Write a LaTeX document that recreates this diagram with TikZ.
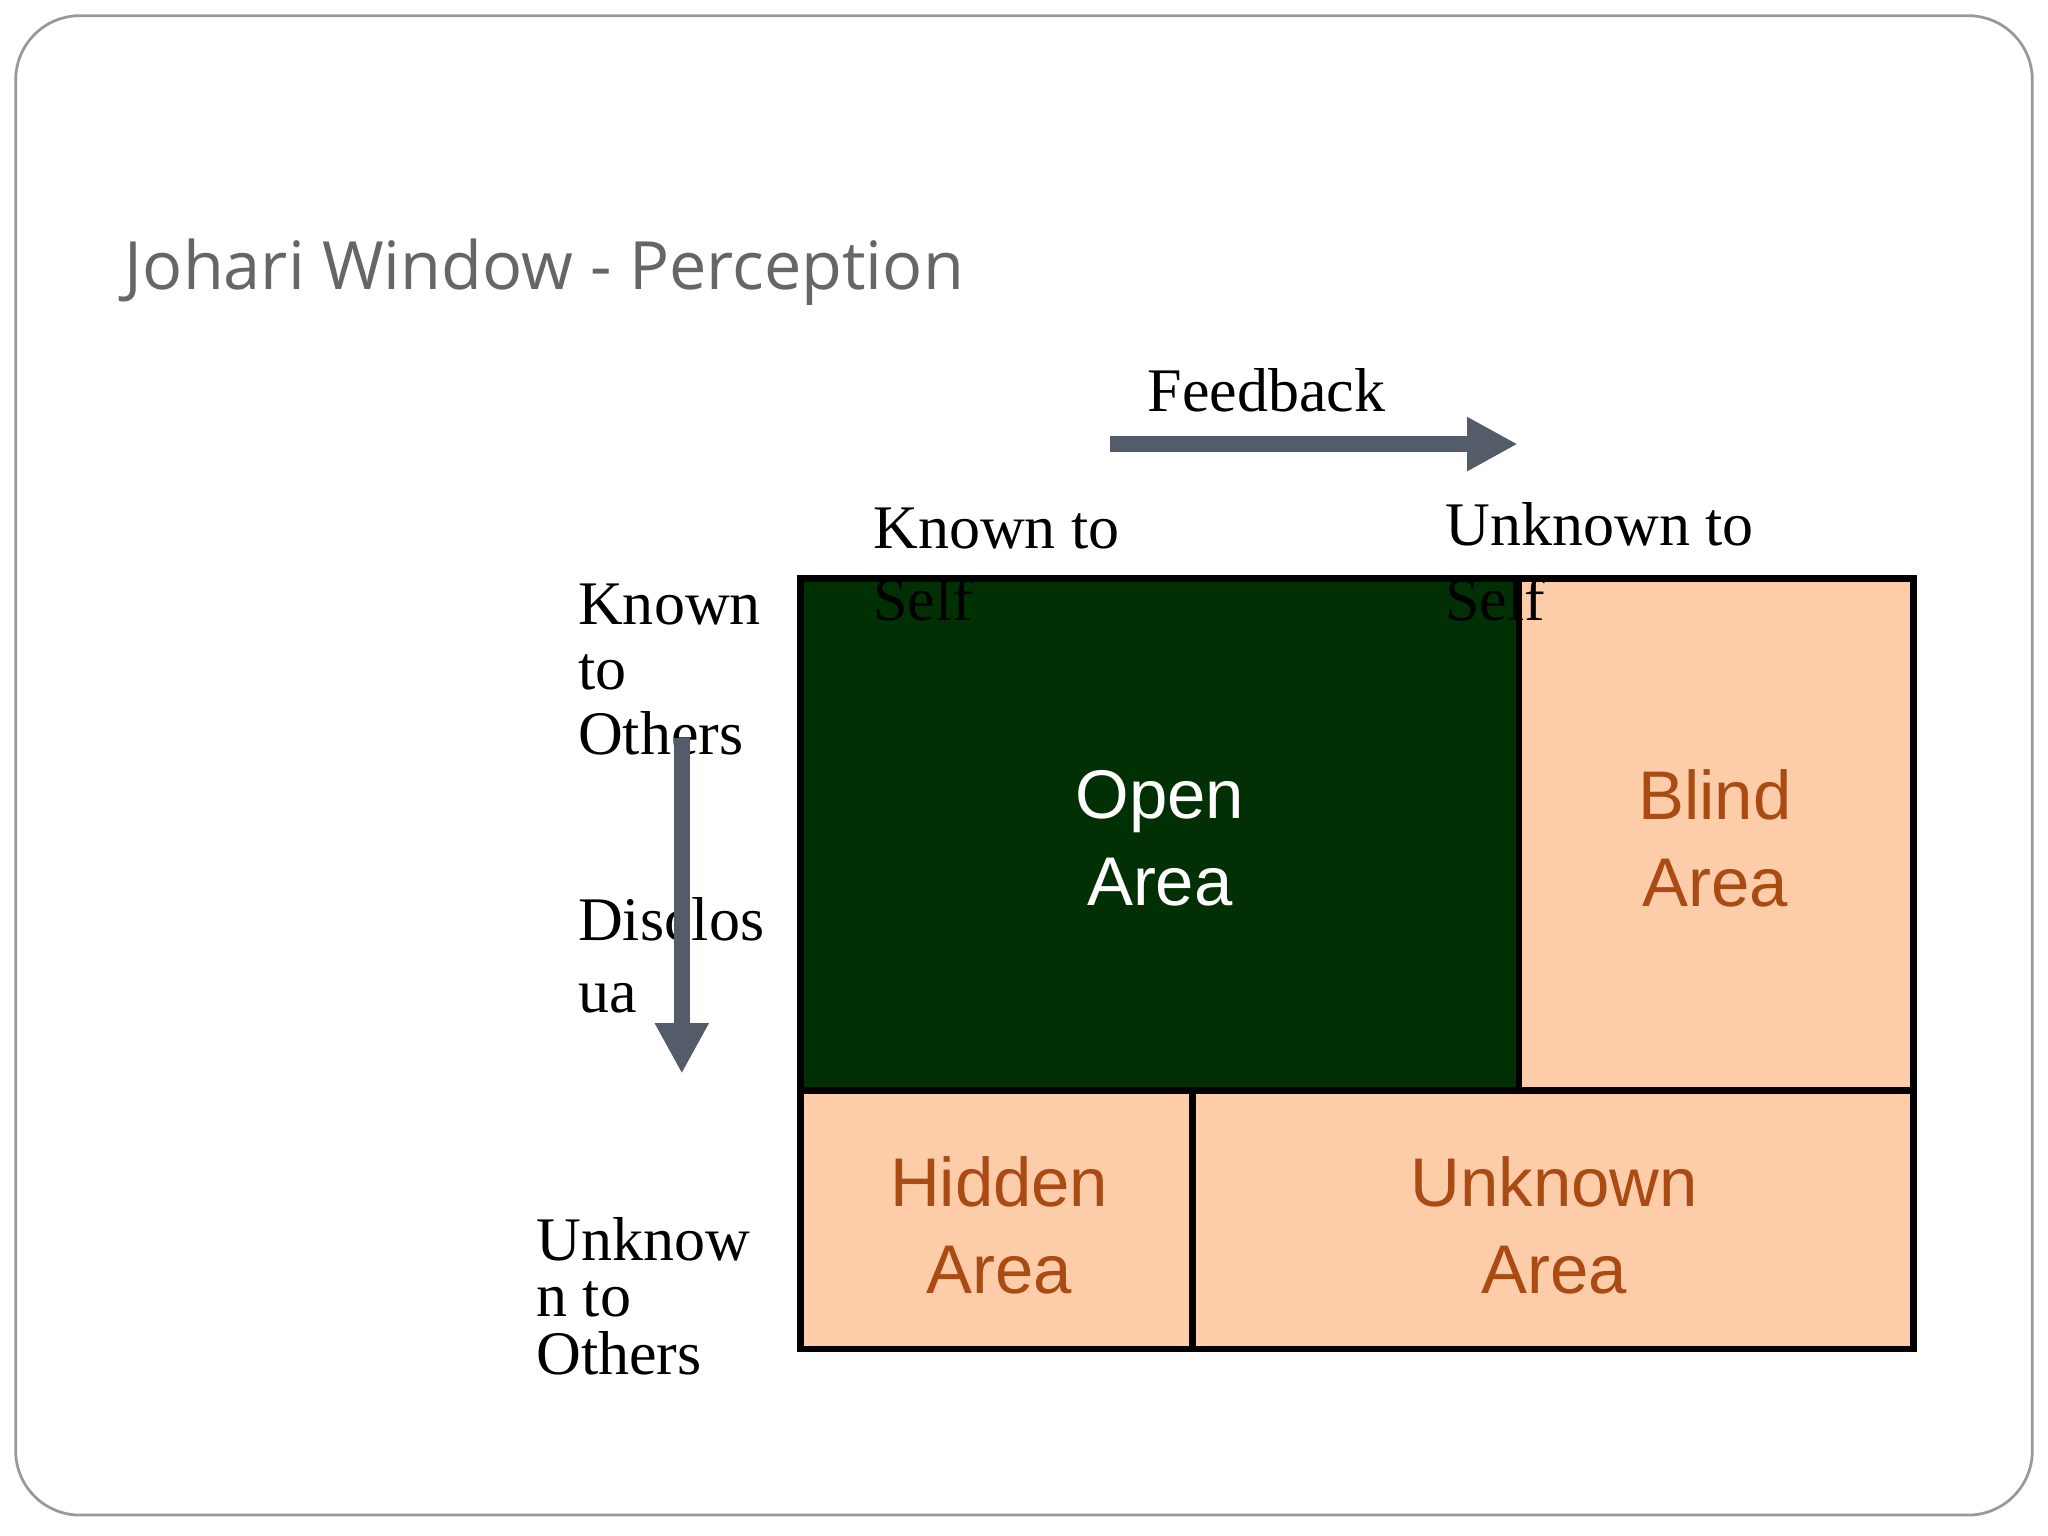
\documentclass[tikz,border=0pt]{standalone}
\usepackage{fontspec}
\setmainfont{Liberation Serif}
\newfontfamily\titlef{Open Sans}
\newfontfamily\boxf{Liberation Sans}
\usetikzlibrary{arrows.meta}
\definecolor{slate}{RGB}{85,92,105}
\definecolor{dgreen}{RGB}{2,48,5}
\definecolor{peach}{RGB}{253,205,170}
\definecolor{brownt}{RGB}{170,75,20}
\begin{document}
\begin{tikzpicture}[x=0.01cm,y=-0.01cm,
 lab/.style={anchor=base west,inner sep=0,font=\fontsize{13.5}{15}\selectfont},
 area/.style={align=center,font=\boxf\fontsize{15}{19}\selectfont,inner sep=0},
 cell/.style={draw=black,line width=1.4pt},
 arr/.style={draw=slate,line width=3.4pt,-{Triangle[length=11pt,width=11pt]}}]
\useasboundingbox (0,0) rectangle (1568,1176);
\draw[gray!80,line width=0.6pt,rounded corners=14pt] (12,12) rectangle (1556,1160);
\node[anchor=base west,inner sep=0,text=black!60,font=\titlef\fontsize{14.5}{17}\selectfont] (title) at (95,222) {Johari Window - Perception};
% cells
\fill[dgreen] (613,443) rectangle (1163,835);
\fill[peach] (1163,443) rectangle (1465,835);
\fill[peach] (613,835) rectangle (1465,1033);
\draw[cell] (613,443) rectangle (1163,835);
\draw[cell] (1163,443) rectangle (1465,835);
\draw[cell] (613,835) rectangle (913,1033);
\draw[cell] (913,835) rectangle (1465,1033);
\node[area,text=white] (open) at (888,642) {Open\\Area};
\node[area,text=brownt] (blind) at (1313,642) {Blind\\Area};
\node[area,text=brownt] (hidden) at (765,938) {Hidden\\Area};
\node[area,text=brownt] (unk) at (1190,938) {Unknown\\Area};
% top labels
\node[lab] (fb) at (878,315) {Feedback};
\coordinate (fa) at (850,340); \coordinate (fb2) at (1162,340);
\draw[arr] (fa) -- (fb2);
\node[lab] (ks1) at (668,420) {Known to};
\node[lab] (ks2) at (668,475) {Self};
\node[lab] (us1) at (1106,418) {Unknown to};
\node[lab] (us2) at (1106,475) {Self};
% left labels
\node[lab] (k1) at (442,478) {Known};
\node[lab] (k2) at (442,528) {to};
\node[lab] (k3) at (442,578) {Others};
\node[lab] (d1) at (442,720) {Disclos};
\node[lab] (d2) at (442,775) {ua};
\coordinate (da) at (522,565); \coordinate (db) at (522,822);
\draw[arr] (da) -- (db);
\node[lab] (u1) at (410,965) {Unknow};
\node[lab] (u2) at (410,1008) {n to};
\node[lab] (u3) at (410,1052) {Others};
\end{tikzpicture}
\end{document}
